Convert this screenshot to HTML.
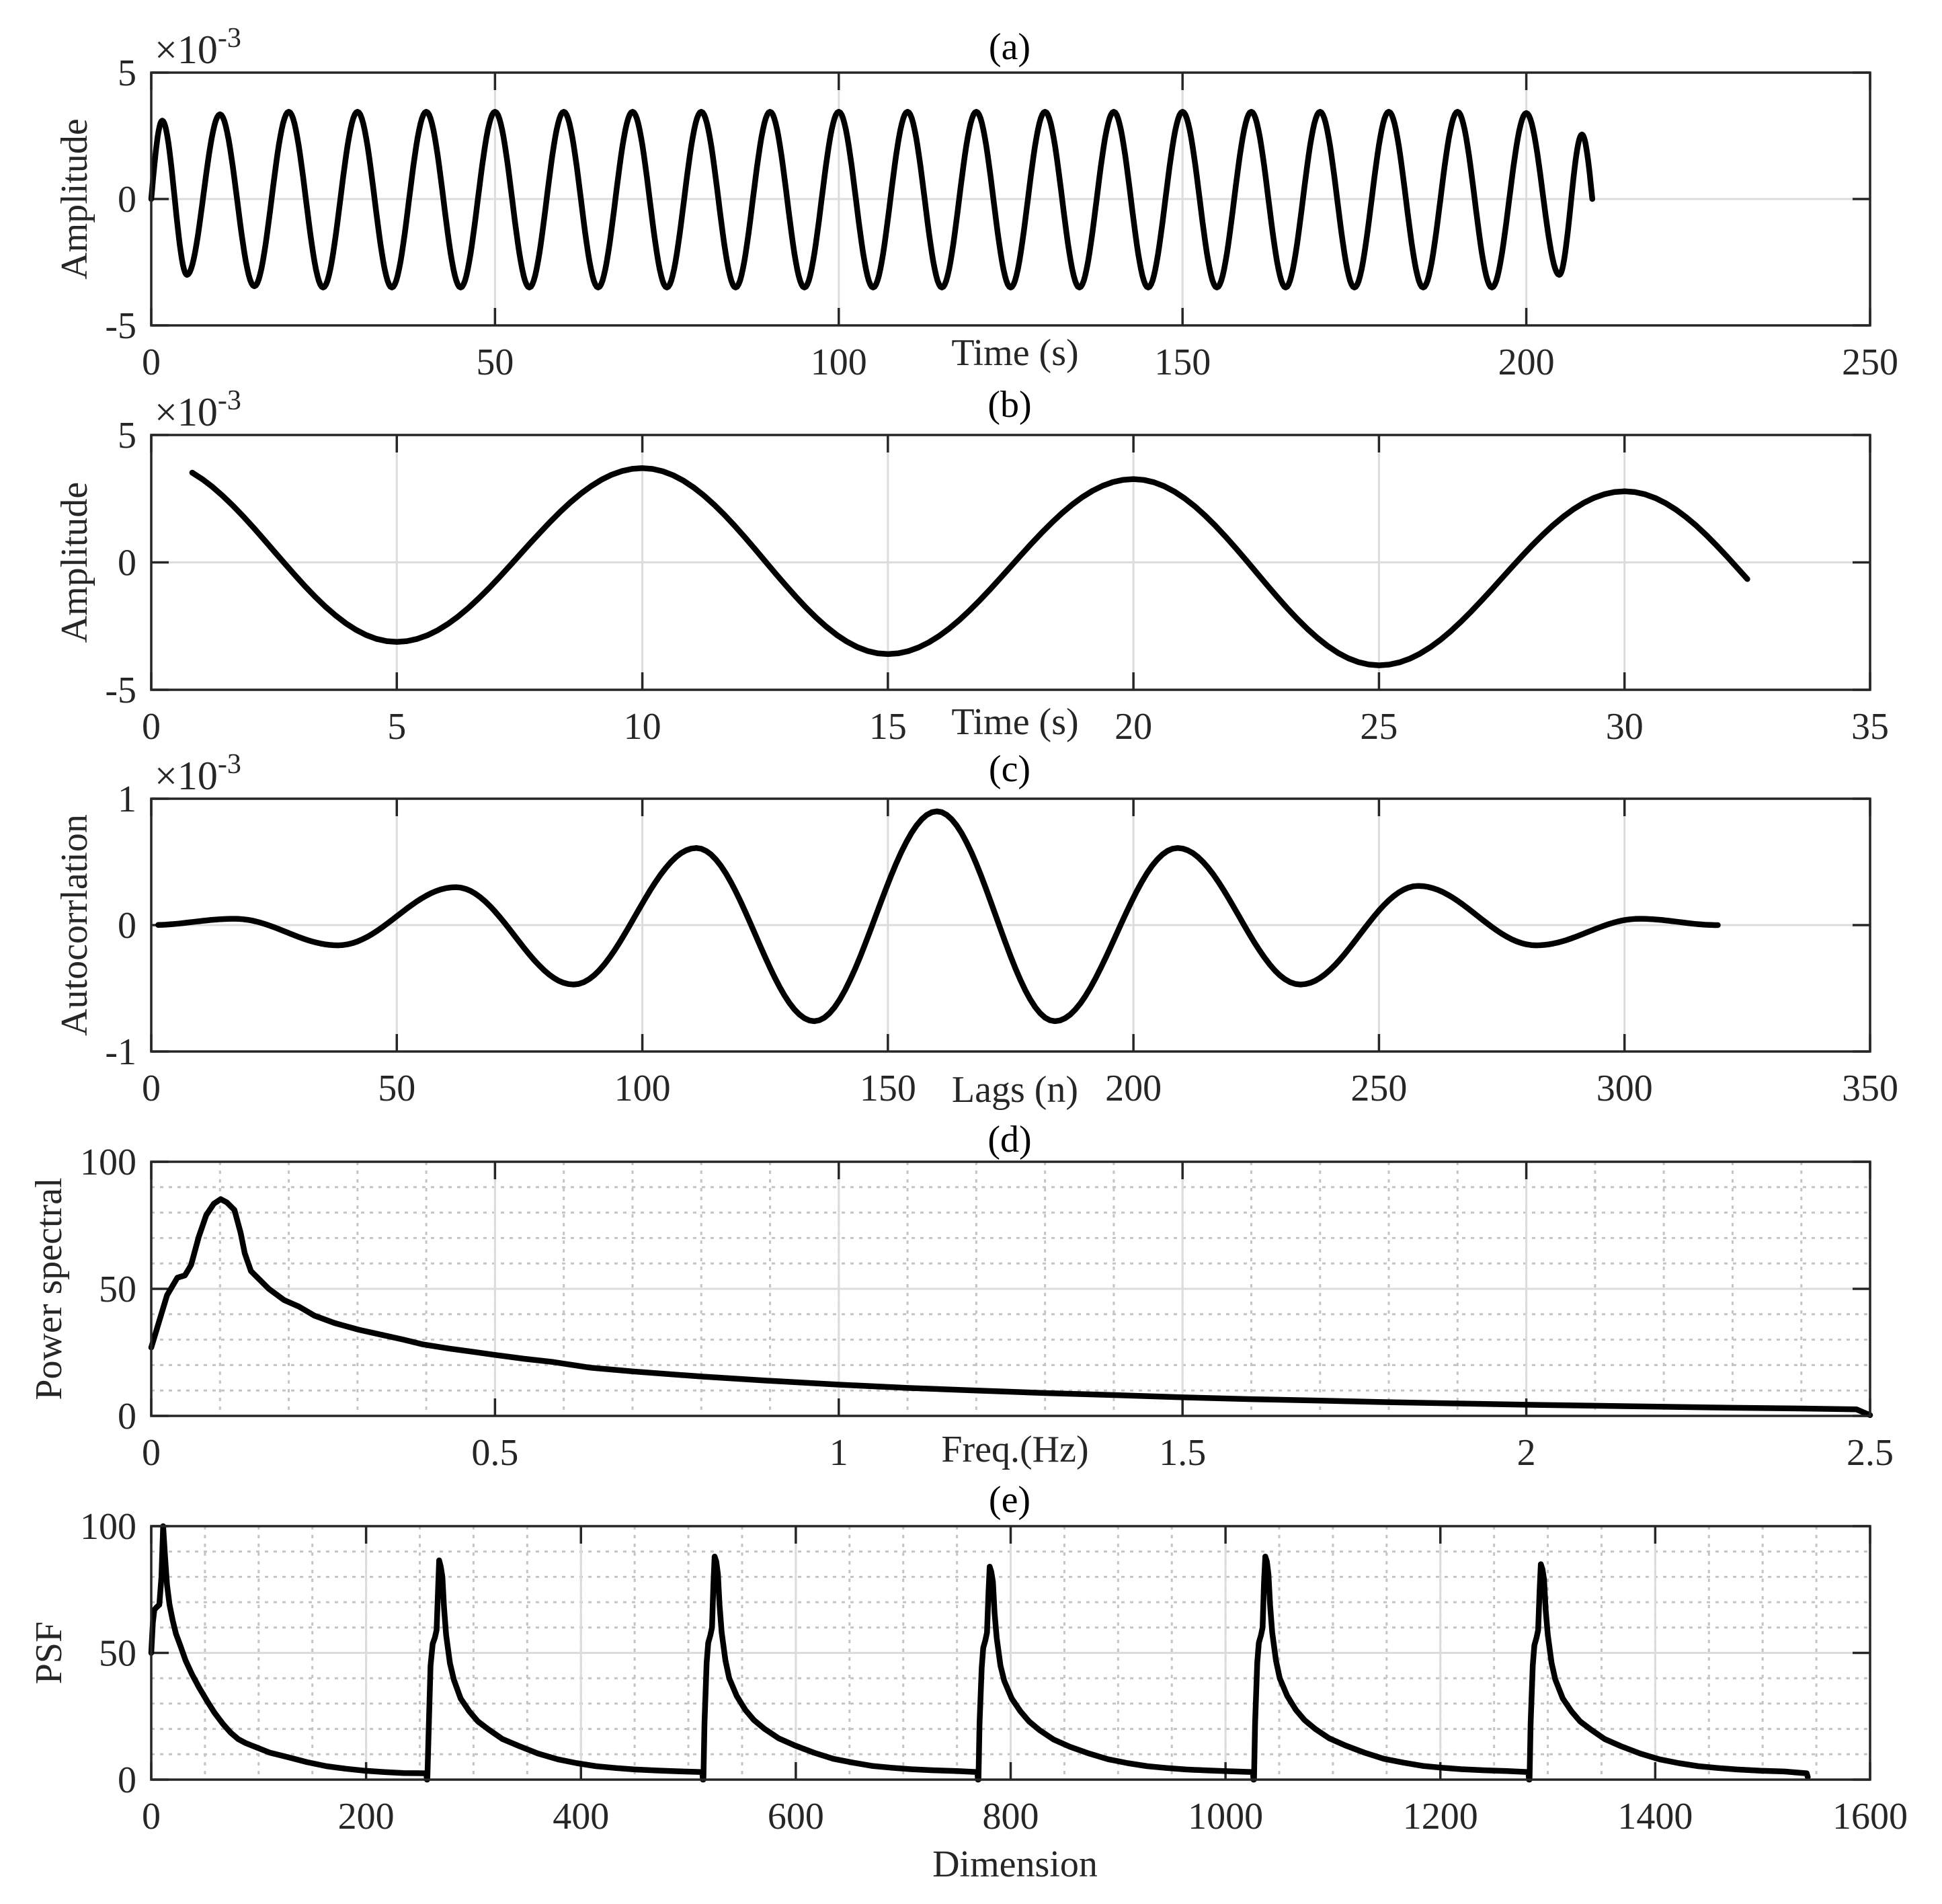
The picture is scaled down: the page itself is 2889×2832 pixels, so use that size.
<!DOCTYPE html>
<html><head><meta charset="utf-8"><style>
html,body{margin:0;padding:0;background:#fff;}
svg{display:block;font-family:"Liberation Serif","Times New Roman",serif;}
</style></head><body>
<svg id="fig" width="2889" height="2832" viewBox="0 0 2889 2832" xmlns="http://www.w3.org/2000/svg">
<rect x="0" y="0" width="2889" height="2832" fill="#fff"/>
</svg>
<script>
// ---- panel (a) data: extrema of time signal (x1e-3)
const aT = [-1.6,1.6,5.2,10,15,20,25,30,35,40,45,50,55,60,65,70,75,80,85,90,95,100,105,110,115,120,125,130,135,140,145,150,155,160,165,170,175,180,185,190,195,200,204.8,208.1,211.1];
const aV = [-3.1,3.1,-3.0,3.35,-3.45,3.45,-3.5,3.45,-3.5,3.45,-3.5,3.45,-3.5,3.45,-3.5,3.45,-3.5,3.45,-3.5,3.45,-3.5,3.45,-3.5,3.45,-3.5,3.45,-3.5,3.45,-3.5,3.45,-3.5,3.45,-3.5,3.45,-3.5,3.45,-3.5,3.45,-3.5,3.45,-3.5,3.4,-3.0,2.55,-2.55];
const aRange = [0, 209.6];
// ---- panel (b)
const bT = [0,5,10,15,20,25,30,35];
const bV = [4.0,-3.12,3.7,-3.6,3.27,-4.04,2.79,-4.1];
const bRange = [0.8, 32.7];
// ---- panel (c) autocorrelation extrema
const cT = [0,17,38,62,86,111,135,160,184,209,234,258,282,303,319];
const cV = [0,0.05,-0.16,0.30,-0.47,0.61,-0.76,0.9,-0.76,0.61,-0.47,0.31,-0.16,0.05,0];
const cRange = [1, 319];
// ---- panel (d) power spectral
const dF = [0,0.023,0.038,0.049,0.058,0.069,0.08,0.091,0.101,0.11,0.121,0.13,0.136,0.145,0.158,0.171,0.193,0.215,0.237,0.267,0.302,0.337,0.367,0.394,0.433,0.468,0.5,0.542,0.585,0.638,0.7,0.8,0.9,1.0,1.1,1.2,1.3,1.4,1.5,1.6,1.7,1.8,1.9,2.0,2.1,2.2,2.3,2.4,2.48,2.5];
const dP = [26.9,47.5,54.4,55.3,59.4,70.4,79,83.5,85.3,84,81,72,64,57,53.5,50,45.6,43,39.5,36.5,33.9,31.8,30,28.2,26.5,25.2,24,22.5,21.2,19,17.5,15.5,13.8,12.3,11,10,9,8.2,7.3,6.6,6,5.4,4.9,4.4,4,3.6,3.2,2.9,2.6,0.3];
// ---- panel (e) PSF
const eX = [0,1.5,2.9,5,7.5,9.5,11.1,12.8,14.7,17,20,23,27,32,38,45,52,59,66.7,74,81,88,95,110,127.6,145,163,181,199,217,235,246,256,256.6,
 257,258.4,260,262,264,265.6,267,268,269.5,271,272.5,274.5,278,281.7,288,296,304,314,327,342.6,360,378.5,396,414,432,450,470,490,513,513.5,
 514,515,517,518.5,520.5,522,523.3,524.4,526,527.5,529,531,534.5,538,545,553,561,571,584,599,617,635,653,671,689,707,728,750,769,769.5,
 770,771,773,774.5,776.5,778,779.3,780.5,782,783.5,785,787,790.5,794,801,809,817,827,840,855,873,891,909,927,945,963,984,1005,1025.5,1026,
 1026.5,1027.5,1029.5,1031,1033,1034.5,1035.8,1037,1038.5,1040,1041.5,1043.5,1047,1050.5,1057.5,1065.5,1073.5,1083.5,1096.5,1111.5,1129.5,1147.5,1165.5,1183.5,1201.5,1219.5,1241,1262,1282,1282.5,
 1283,1284,1286,1287.5,1289.5,1291,1292.3,1293.5,1295,1296.5,1298,1300,1303.5,1307,1314,1322,1330,1340,1353,1368,1386,1404,1422,1440,1458,1476,1498,1520,1541,1542];
const eY = [50,62,67,68,69,80,100,88,76.8,69,62.7,57.5,53,47,41.5,36,31,26.3,22,18.5,16,14.4,13.2,10.7,8.8,6.9,5.3,4.3,3.5,3,2.6,2.55,2.5,0,
 0,22,45,53.6,56,59,75,86.5,84,80,68,57,46,39.4,32,27,23,19.8,16,13.2,10.3,8,6.5,5.3,4.6,4,3.6,3.3,3,0,
 0,22,46,54,57,60,77,88,86,81,69,58,47,40,33,27.5,23.5,20,16.3,13.5,10.6,8.2,6.7,5.4,4.7,4.1,3.7,3.4,3,0,
 0,22,44,52,55,58,73,84,82,78,66,56,45,39,32,27,23,19.5,15.8,13,10.3,8,6.5,5.3,4.6,4,3.6,3.3,3,0,
 0,22,46,54,57,60,77,88,86,81,69,58,47,40,33,27.5,23.5,20,16.3,13.5,10.6,8.2,6.7,5.4,4.7,4.1,3.7,3.4,3,0,
 0,22,45,53,56,59,74,85,83,79,67,57,46,39.5,32,27,23,19.8,16,13.2,10.3,8,6.5,5.3,4.6,4,3.5,3.2,2.5,1];

const NS = "http://www.w3.org/2000/svg";
const svg = document.getElementById('fig');
const L = 225, R = 2782, FS = 56;
function mk(tag, attrs, parent){ const e = document.createElementNS(NS, tag); for (const k in attrs) e.setAttribute(k, attrs[k]); (parent||svg).appendChild(e); return e; }

function panel(cfg){
  const g = mk('g', {});
  
  
  const T = cfg.top, B = cfg.bottom;
  const sx = v => L + (v - cfg.xmin) / (cfg.xmax - cfg.xmin) * (R - L);
  const sy = v => B - (v - cfg.ymin) / (cfg.ymax - cfg.ymin) * (B - T);
  if (cfg.xminor) {
    for (let v = cfg.xmin; v <= cfg.xmax + 1e-9; v += cfg.xminor) {
      const l = mk('line', {x1: sx(v), x2: sx(v), y1: T, y2: B, stroke: '#c4c4c4', 'stroke-width': 3, 'stroke-dasharray': '5 8'}, g);
      
      
    }
    for (let v = cfg.ymin; v <= cfg.ymax + 1e-9; v += cfg.yminor) {
      const l = mk('line', {x1: L, x2: R, y1: sy(v), y2: sy(v), stroke: '#c4c4c4', 'stroke-width': 3, 'stroke-dasharray': '5 8'}, g);
      
      
    }
  }
  cfg.xticks.forEach((v, i) => {
    const x = sx(v);
    const l = mk('line', {x1: x, x2: x, y1: T, y2: B, stroke: '#dcdcdc', 'stroke-width': 3}, g);
    
    
    const t1 = mk('line', {x1: x, x2: x, y1: B, y2: B - 26, stroke: '#262626', 'stroke-width': 3.5}, g);
    
    
    const t2 = mk('line', {x1: x, x2: x, y1: T, y2: T + 26, stroke: '#262626', 'stroke-width': 3.5}, g);
    
    
    const tx = mk('text', {x: x, y: B + 73, 'font-size': FS, 'text-anchor': 'middle', fill: '#262626'}, g);
    tx.textContent = cfg.xlabels[i];
    
    
  });
  cfg.yticks.forEach((v, i) => {
    const y = sy(v);
    const l = mk('line', {x1: L, x2: R, y1: y, y2: y, stroke: '#dcdcdc', 'stroke-width': 3}, g);
    
    
    const t1 = mk('line', {x1: L, x2: L + 26, y1: y, y2: y, stroke: '#262626', 'stroke-width': 3.5}, g);
    
    
    const t2 = mk('line', {x1: R, x2: R - 26, y1: y, y2: y, stroke: '#262626', 'stroke-width': 3.5}, g);
    
    
    const tx = mk('text', {x: 203, y: y + 19, 'font-size': FS, 'text-anchor': 'end', fill: '#262626'}, g);
    tx.textContent = cfg.ylabels[i];
    
    
  });
  const pts = cfg.points(sx, sy);
  const p = mk('path', {d: 'M' + pts.map(q => q[0].toFixed(1) + ',' + q[1].toFixed(1)).join('L'), fill: 'none', stroke: '#000', 'stroke-width': 8.5, 'stroke-linejoin': 'round', 'stroke-linecap': 'round'}, g);
  
  
  const fr = mk('rect', {x: L, y: T, width: R - L, height: B - T, fill: 'none', stroke: '#262626', 'stroke-width': 3.5}, g);
  
  
  const ti = mk('text', {x: 1502, y: cfg.titleY + 19, 'font-size': FS, 'text-anchor': 'middle', fill: '#000'}, g);
  ti.textContent = cfg.title;
  
  
  const xl = mk('text', {x: 1510, y: cfg.xlabelY + 19, 'font-size': FS, 'text-anchor': 'middle', fill: '#262626'}, g);
  xl.textContent = cfg.xlabel;
  
  
  const cy = (T + B) / 2;
  const yl = mk('text', {x: cfg.ylabelX + 19, y: cy, 'font-size': FS, 'text-anchor': 'middle', fill: '#262626', transform: 'rotate(-90 ' + (cfg.ylabelX + 19) + ' ' + cy + ')'}, g);
  yl.textContent = cfg.ylabel;
  
  
  if (cfg.exp) {
    const ex = mk('text', {x: 230, y: T - 14, 'font-size': 60, fill: '#262626'}, g);
    ex.innerHTML = '×10<tspan dy="-24" font-size="42">-3</tspan>';
    
    
  }
}

function osc(T, V, range){
  return (sx, sy) => {
    const out = [];
    for (let i = 0; i < T.length - 1; i++) {
      const t0 = T[i], t1 = T[i+1];
      for (let k = 0; k <= 24; k++) {
        const f = k / 24, t = t0 + (t1 - t0) * f;
        if (t < range[0] - 1e-9 || t > range[1] + 1e-9) continue;
        const v = V[i] + (V[i+1] - V[i]) * (1 - Math.cos(Math.PI * f)) / 2;
        out.push([sx(t), sy(v)]);
      }
    }
    return out;
  };
}
function lin(X, Y){ return (sx, sy) => X.map((x, i) => [sx(x), sy(Y[i])]); }

panel({name:'panel-a', top:108, bottom:484, xmin:0, xmax:250, ymin:-5, ymax:5,
  xticks:[0,50,100,150,200,250], xlabels:['0','50','100','150','200','250'],
  yticks:[-5,0,5], ylabels:['-5','0','5'], title:'(a)', titleY:69, xlabel:'Time (s)', xlabelY:524,
  ylabel:'Amplitude', ylabelX:110, exp:true, points: osc(aT, aV, aRange)});
panel({name:'panel-b', top:647, bottom:1026, xmin:0, xmax:35, ymin:-5, ymax:5,
  xticks:[0,5,10,15,20,25,30,35], xlabels:['0','5','10','15','20','25','30','35'],
  yticks:[-5,0,5], ylabels:['-5','0','5'], title:'(b)', titleY:601, xlabel:'Time (s)', xlabelY:1073,
  ylabel:'Amplitude', ylabelX:110, exp:true, points: osc(bT, bV, bRange)});
panel({name:'panel-c', top:1188, bottom:1564, xmin:0, xmax:350, ymin:-1, ymax:1,
  xticks:[0,50,100,150,200,250,300,350], xlabels:['0','50','100','150','200','250','300','350'],
  yticks:[-1,0,1], ylabels:['-1','0','1'], title:'(c)', titleY:1143, xlabel:'Lags (n)', xlabelY:1620,
  ylabel:'Autocorrlation', ylabelX:110, exp:true, points: osc(cT, cV, cRange)});
panel({name:'panel-d', top:1728, bottom:2106, xmin:0, xmax:2.5, ymin:0, ymax:100, xminor:0.1, yminor:10,
  xticks:[0,0.5,1,1.5,2,2.5], xlabels:['0','0.5','1','1.5','2','2.5'],
  yticks:[0,50,100], ylabels:['0','50','100'], title:'(d)', titleY:1694, xlabel:'Freq.(Hz)', xlabelY:2155,
  ylabel:'Power spectral', ylabelX:72, points: lin(dF, dP)});
panel({name:'panel-e', top:2270, bottom:2647, xmin:0, xmax:1600, ymin:0, ymax:100, xminor:50, yminor:10,
  xticks:[0,200,400,600,800,1000,1200,1400,1600], xlabels:['0','200','400','600','800','1000','1200','1400','1600'],
  yticks:[0,50,100], ylabels:['0','50','100'], title:'(e)', titleY:2230, xlabel:'Dimension', xlabelY:2772,
  ylabel:'PSF', ylabelX:72, points: lin(eX, eY)});
</script>
</body></html>
